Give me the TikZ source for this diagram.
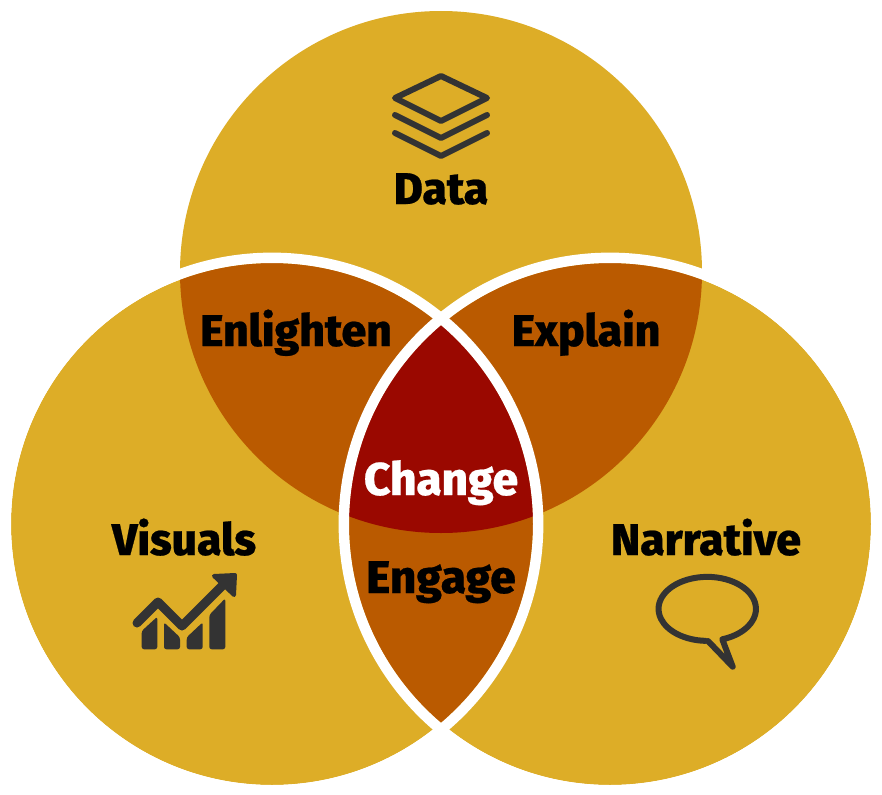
\documentclass[tikz,border=0pt]{standalone}
\usepackage{fontspec}
\setsansfont[FakeBold=0.5]{Fira Sans ExtraBold}
\usetikzlibrary{positioning}
\definecolor{vennyellow}{HTML}{DDAD27}
\definecolor{vennorange}{HTML}{BA5A00}
\definecolor{vennred}{HTML}{9A0800}
\definecolor{iconink}{HTML}{333333}
\tikzset{
  vennlabel/.style={font=\sffamily\fontsize{31.6}{32}\selectfont, text=black, inner sep=0pt, anchor=base},
  lenslabel/.style={vennlabel, font=\sffamily\fontsize{32.6}{33}\selectfont},
  iconline/.style={draw=iconink, line width=0.15cm, line join=round, line cap=round},
  iconbar/.style={fill=iconink, rounded corners=0.06cm},
  whitering/.style={draw=white, line width=0.26cm}
}
\begin{document}
\begin{tikzpicture}[x=0.025cm,y=-0.025cm]
\useasboundingbox (0,0) rectangle (882,795);
\coordinate (dataC) at (441,272);
\coordinate (visualsC) at (272,524);
\coordinate (narrativeC) at (610,524);

% the three circles
\fill[vennyellow] (dataC) circle[radius=261];
\fill[vennyellow] (visualsC) circle[radius=261];
\fill[vennyellow] (narrativeC) circle[radius=261];

% pairs
\begin{scope}
  \clip (visualsC) circle[radius=261];
  \fill[vennorange] (narrativeC) circle[radius=261];
\end{scope}
\begin{scope}
  \clip (dataC) circle[radius=261];
  \fill[vennorange] (visualsC) circle[radius=261];
  \fill[vennorange] (narrativeC) circle[radius=261];
  \clip (visualsC) circle[radius=261];
  \fill[vennred] (narrativeC) circle[radius=261];
\end{scope}

% white rings
\draw[whitering] (visualsC) circle[radius=266.2];
\draw[whitering] (narrativeC) circle[radius=266.2];

% labels
\node[vennlabel] (data) at (441,204) {Data};
\node[vennlabel] (enlighten) at (296,346) {Enlighten};
\node[vennlabel] (explain) at (586,346) {Explain};
\node[lenslabel, text=white] (change) at (441,495) {Change};
\node[lenslabel] (engage) at (441,593) {Engage};
\node[vennlabel] (visuals) at (184,555) {Visuals};
\node[vennlabel] (narrative) at (706,555) {Narrative};

% stack icon
\draw[iconline] (441,76) -- (487,98) -- (441,121) -- (395,98) -- cycle;
\draw[iconline] (395,115) -- (441,138) -- (487,115);
\draw[iconline] (395,133) -- (441,156) -- (487,133);

% chart icon
\fill[iconbar] (141.7,631) -- (157.3,616.7) -- (157.3,649.3) -- (141.7,649.3) -- cycle;
\fill[iconbar] (164,622.3) -- (180,637.3) -- (180,649.3) -- (164,649.3) -- cycle;
\fill[iconbar] (186.7,637.3) -- (202.7,622.3) -- (202.7,649.3) -- (186.7,649.3) -- cycle;
\fill[iconbar] (209.3,615) -- (225.3,598.3) -- (225.3,649.3) -- (209.3,649.3) -- cycle;
\draw[iconline, line width=0.225cm] (137,623) -- (158,602) -- (182,626) -- (226,582);
\fill[iconink, draw=iconink, line width=0.1cm, line join=round] (214,576) -- (235,575) -- (234,595) -- cycle;

% speech bubble
\draw[iconline] (708,641) -- (732.7,666.7) -- (722.3,639.3)
  arc[start angle=72, end angle=-268, x radius=48.7, y radius=32];
\end{tikzpicture}
\end{document}
